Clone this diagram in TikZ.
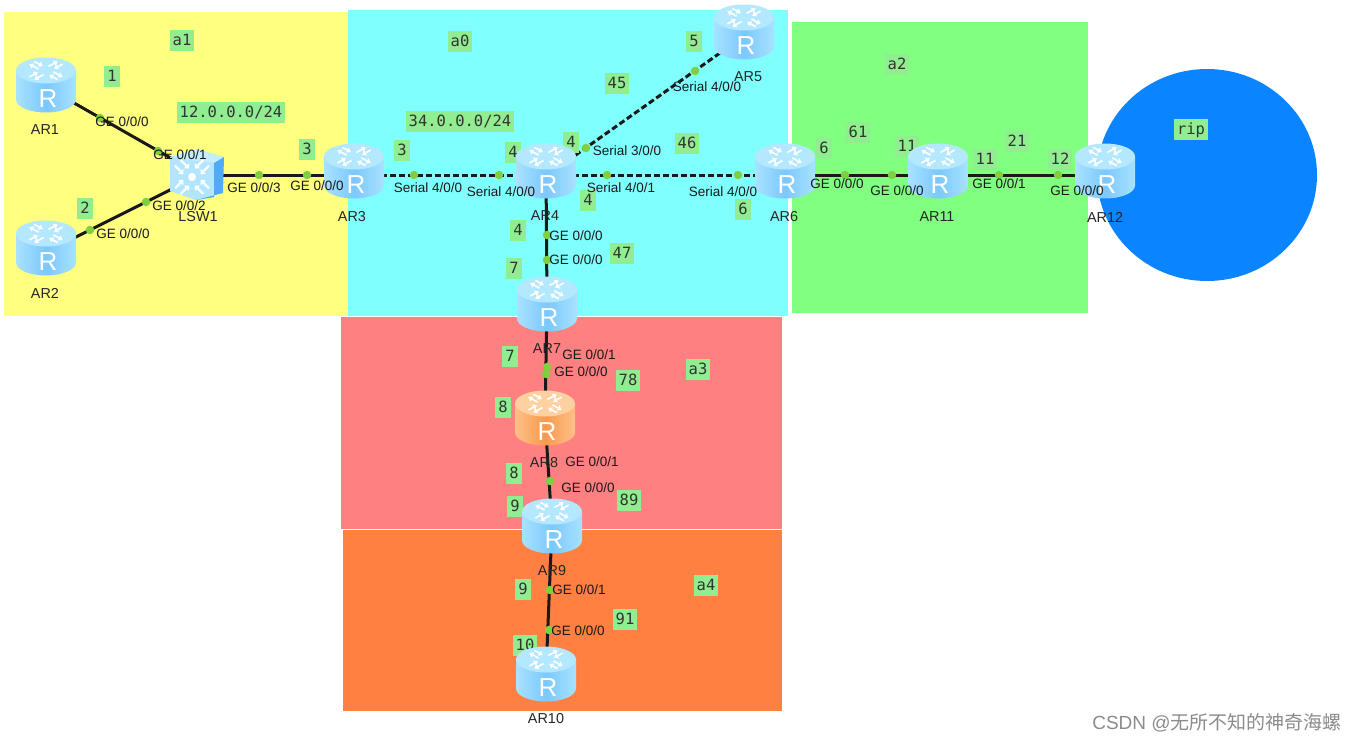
\documentclass[tikz,border=0pt]{standalone}
\usepackage{fontspec}
\setmainfont{Liberation Sans}
\setmonofont{DejaVu Sans Mono}
\newfontfamily\cjkfont{Noto Sans CJK SC}
\usetikzlibrary{arrows.meta,calc}
\definecolor{dotgreen}{HTML}{7FD03F}
\definecolor{tagbg}{HTML}{90EE90}
\definecolor{ripblue}{HTML}{0A84FF}
\definecolor{blueR}{HTML}{7CC8FC}
\definecolor{blueTop}{HTML}{B4E8FF}
\definecolor{blueEdge}{HTML}{A8E2FF}
\definecolor{orangeR}{HTML}{F79A4E}
\definecolor{orangeTop}{HTML}{FFD0A0}
\definecolor{orangeEdge}{HTML}{FFC088}
\tikzset{
  x=1pt,y=-1pt,
  tag/.style={fill=tagbg,font=\ttfamily\fontsize{15.5}{16}\selectfont,text=black!80,inner ysep=0pt,inner xsep=3pt,minimum height=21pt,minimum width=15pt,text height=11pt,text depth=0pt},
  iflabel/.style={font=\fontsize{13.5}{14}\selectfont,text=black!90,inner sep=0pt},
  devlabel/.style={font=\fontsize{14.4}{15}\selectfont,text=black!85,inner sep=0pt},
  devbox/.style={minimum width=58pt,minimum height=50pt,inner sep=0pt,draw=none},
  swbox/.style={minimum width=54pt,minimum height=50pt,inner sep=0pt,draw=none},
  port/.style={circle,fill=dotgreen,minimum size=8.5pt,inner sep=0pt},
  solidlink/.style={line width=3pt,black!90},
  seriallink/.style={line width=3pt,black!90,dash pattern=on 6pt off 3pt},
  routerarrow/.style={white,line width=1.6pt,-{Triangle[length=4pt,width=5.5pt]}},
  pics/routericon/.style n args={3}{code={
    \path[left color=#3,right color=#3,middle color=#1] (-30,-14.5) -- (-30,14.5) arc[start angle=180,end angle=360,x radius=30,y radius=-13] -- (30,-14.5) -- cycle;
    \fill[#2] (0,-14.5) ellipse[x radius=30,y radius=13];
    \foreach \a in {45,135,225,315}{
      \begin{scope}[shift={(0,-14.5)},yscale=0.55,rotate=\a]
        \draw[routerarrow] (7,-3.5) -- (20,-3.5);
        \draw[routerarrow] (20,3.5) -- (8,3.5);
      \end{scope}}
    \node[text=white,font=\fontsize{26}{26}\selectfont,inner sep=0pt] at (2,13.5) {R};
  }},
}
\begin{document}
\begin{tikzpicture}
\useasboundingbox (0,0) rectangle (1358,742);
\fill[white] (0,0) rectangle (1358,742);
% areas
\fill[color={rgb,255:red,255;green,255;blue,128}] (4,12) rectangle (348,316);
\fill[color={rgb,255:red,128;green,255;blue,128}] (792,22) rectangle (1088,313);
\fill[color={rgb,255:red,128;green,255;blue,255}] (348,10) rectangle (788,316);
\fill[color={rgb,255:red,255;green,128;blue,128}] (341,317) rectangle (782,529);
\fill[color={rgb,255:red,255;green,128;blue,64}] (343,530) rectangle (782,711);
\fill[ripblue] (1207,175) ellipse[x radius=110,y radius=106];
% devices (invisible anchors)
\node[devbox] (ar1) at (46,85) {};
\node[devbox] (ar2) at (46,248) {};
\node[swbox] (lsw1) at (197,175) {};
\node[devbox] (ar3) at (354,171) {};
\node[devbox] (ar4) at (546,171) {};
\node[devbox] (ar5) at (744,32) {};
\node[devbox] (ar6) at (785,171) {};
\node[devbox] (ar11) at (938,171) {};
\node[devbox] (ar12) at (1105,171) {};
\node[devbox] (ar7) at (547,304) {};
\node[devbox] (ar8) at (545,418) {};
\node[devbox] (ar9) at (552,526) {};
\node[devbox] (ar10) at (546,674) {};
% links
\coordinate (p3e) at ($(ar3.center)+(0,4)$);
\coordinate (p4e) at ($(ar4.center)+(0,4)$);
\coordinate (p6e) at ($(ar6.center)+(0,4)$);
\coordinate (p11e) at ($(ar11.center)+(0,4)$);
\coordinate (p12e) at ($(ar12.center)+(0,4)$);
\coordinate (p1e) at ($(ar1.center)+(0,2)$);
\coordinate (p2e) at ($(ar2.center)+(0,4)$);
\coordinate (p5e) at ($(ar5.center)+(0,4)$);
\coordinate (p45) at ($(ar4.center)+(0,5)$);
\draw[solidlink] (p1e) -- ($(lsw1.center)+(0,-2)$);
\draw[solidlink] (p2e) -- ($(lsw1.center)+(0,1.5)$);
\draw[solidlink] (lsw1.center) -- (p3e);
\draw[seriallink] (p3e) -- (p4e);
\draw[seriallink] (p45) -- (p5e);
\draw[seriallink] (p4e) -- (p6e);
\draw[solidlink] (ar4.center) -- (ar7.center);
\draw[solidlink] (ar7.center) -- (ar8.center);
\draw[solidlink] (ar8.center) -- (ar9.center);
\draw[solidlink] (ar9.center) -- (ar10.center);
\draw[solidlink] (p6e) -- (p11e);
\draw[solidlink] (p11e) -- (p12e);
% ports
\foreach \n/\x/\y in {a/100/118,b/158/151,c/90/230,d/146/202,e/259/175,f/307/175,g/414/175,h/499/175,i/586/148,j/695/71,k/607/175,l/738/175,m/547/235,n/547/260,o/547/367,p/546/374,q/550/481,r/550/590,s/549/630,t/845/175,u/892/175,v/999/175,w/1058/175}
  \node[port] (port\n) at (\x,\y) {};
% tags
\foreach \t/\x/\y [count=\i] in {
  a1/182/40,1/112/76,{12.0.0.0/24}/231/112,2/85/208,3/307/149,
  a0/460/41,{34.0.0.0/24}/460/121,3/402/150,4/513/152,4/571/142,5/694/41,45/617/83,46/687/143,4/588/200,6/743/209,4/518/230,7/514/268,47/622/253,
  a2/897/64,61/858/132,6/824/148,11/907/146,11/985/159,21/1017/141,12/1060/159,rip/1191/129,
  a3/698/369,7/510/356,78/628/380,8/503/407,8/514/473,89/629/500,9/515/506,a4/706/585,9/523/589,91/625/619,10/525/645}
  \node[tag] (tag\i) at (\x,\y) {\t};
% icons
\foreach \d in {ar1,ar2,ar3,ar4,ar5,ar6,ar7,ar9,ar10,ar11,ar12}
  \pic at (\d.center) {routericon={blueR}{blueTop}{blueEdge}};
\pic at (ar8.center) {routericon={orangeR}{orangeTop}{orangeEdge}};
% switch
\begin{scope}[shift={(lsw1.center)},shift={(-197,-175)}]
  \fill[color={rgb,255:red,196;green,238;blue,255}] (170,157) -- (197,149) -- (224,157) -- (214,163) -- cycle;
  \fill[color={rgb,255:red,178;green,230;blue,255}] (170,157) -- (214,163) -- (214,197) -- (196,200) -- (170,191) -- cycle;
  \fill[color={rgb,255:red,80;green,170;blue,245}] (214,163) -- (224,157) -- (223,193) -- (196,200) -- (214,197) -- cycle;
  \fill[white] (192,177) circle (4);
  \foreach \a in {45,135,225,315}{
    \begin{scope}[shift={(192,177)},rotate=\a]
      \draw[white,line width=2pt,-{Triangle[length=4pt,width=7pt]}] (20,-4) -- (8,-4);
      \draw[white,line width=2pt,-{Triangle[length=4pt,width=7pt]}] (20,4) -- (8,4);
    \end{scope}}
\end{scope}
% device labels
\foreach \t/\x/\y in {AR1/45/130,AR2/45/293,LSW1/198/217,AR3/352/217,AR4/545/216,AR5/748/77,AR6/784/217,AR7/547/349,AR8/544/463,AR9/552/571,AR10/546/719,AR11/937/217,AR12/1105/217}
  \node[devlabel] (lab\t) at (\x,\y) {\t};
% interface labels
\foreach \t/\x/\y [count=\i] in {
  {GE 0/0/0}/122/122,{GE 0/0/1}/180/155,{GE 0/0/2}/179/206,{GE 0/0/0}/123/234,{GE 0/0/3}/254/188,{GE 0/0/0}/317/186,
  {Serial 4/0/0}/428/188,{Serial 4/0/0}/501/192,{Serial 3/0/0}/627/151,{Serial 4/0/0}/707/87,{Serial 4/0/1}/621/188,{Serial 4/0/0}/723/192,
  {GE 0/0/0}/576/236,{GE 0/0/0}/576/260,{GE 0/0/1}/589/355,{GE 0/0/0}/581/372,{GE 0/0/1}/592/462,{GE 0/0/0}/588/488,{GE 0/0/1}/579/590,{GE 0/0/0}/578/631,
  {GE 0/0/0}/837/184,{GE 0/0/0}/897/191,{GE 0/0/1}/999/184,{GE 0/0/0}/1077/191}
  \node[iflabel] (if\i) at (\x,\y) {\t};
\node[inner sep=0pt,text=black!45,font=\fontsize{19}{20}\selectfont] (wm) at (1217,723) {CSDN @{\cjkfont 无所不知的神奇海螺}};
\end{tikzpicture}
\end{document}
